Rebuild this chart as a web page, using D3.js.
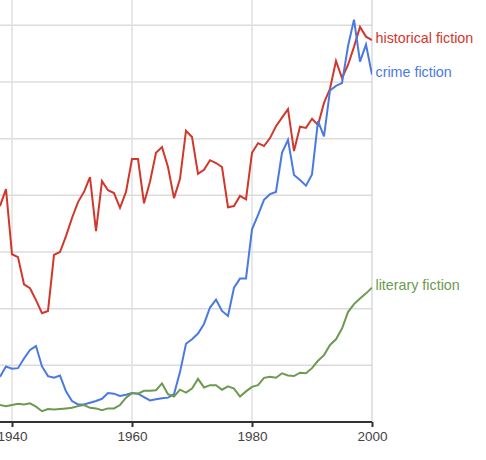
<!DOCTYPE html>
<html>
<head>
<meta charset="utf-8">
<script src="https://cdn.jsdelivr.net/npm/d3@7"></script>
<style>
  body { margin: 0; background: #fff; }
  svg { display: block; font-family: Arial, "Liberation Sans", sans-serif; }
</style>
</head>
<body>
<div id="chart"></div>
<script>
// years shown on the x axis
const years = d3.range(1938, 2001);

// series values, one per year (units = gridline steps)
const historical = [3.81, 4.11, 2.96, 2.91, 2.43, 2.36, 2.15, 1.92, 1.96, 2.95,
  3.00, 3.28, 3.60, 3.88, 4.06, 4.32, 3.37, 4.25, 4.09, 4.04,
  3.78, 4.06, 4.64, 4.64, 3.86, 4.24, 4.75, 4.85, 4.50, 3.95,
  4.29, 5.14, 5.03, 4.38, 4.45, 4.62, 4.57, 4.50, 3.79, 3.81,
  3.99, 3.93, 4.75, 4.92, 4.87, 5.01, 5.22, 5.37, 5.52, 4.78,
  5.21, 5.19, 5.35, 5.24, 5.63, 5.88, 6.37, 6.07, 6.30, 6.62,
  6.97, 6.80, 6.74];
const crime = [0.80, 0.98, 0.94, 0.95, 1.12, 1.27, 1.34, 0.98, 0.81, 0.78,
  0.82, 0.54, 0.37, 0.31, 0.31, 0.34, 0.37, 0.41, 0.51, 0.50,
  0.46, 0.48, 0.51, 0.50, 0.44, 0.38, 0.40, 0.42, 0.43, 0.49,
  0.88, 1.38, 1.46, 1.56, 1.73, 2.02, 2.16, 1.96, 1.87, 2.37,
  2.53, 2.53, 3.40, 3.65, 3.92, 4.02, 4.06, 4.75, 4.98, 4.36,
  4.27, 4.17, 4.37, 5.31, 5.04, 5.85, 5.93, 5.98, 6.63, 7.10,
  6.36, 6.66, 6.13];
const literary = [0.30, 0.28, 0.30, 0.32, 0.31, 0.33, 0.27, 0.19, 0.23, 0.22,
  0.23, 0.24, 0.25, 0.28, 0.30, 0.25, 0.24, 0.21, 0.24, 0.24,
  0.30, 0.43, 0.51, 0.50, 0.55, 0.55, 0.56, 0.68, 0.49, 0.45,
  0.57, 0.52, 0.59, 0.76, 0.61, 0.65, 0.65, 0.57, 0.63, 0.59,
  0.45, 0.54, 0.62, 0.65, 0.78, 0.80, 0.78, 0.86, 0.82, 0.81,
  0.87, 0.86, 0.95, 1.08, 1.18, 1.36, 1.46, 1.65, 1.94, 2.08,
  2.18, 2.27, 2.37];

const seriesNames = ["historical fiction", "crime fiction", "literary fiction"];
const seriesColors = ["#d2372c", "#4a7ae0", "#6d9a4f"];
const xTicks = [1940, 1960, 1980, 2000];
const yGrid = [1, 2, 3, 4, 5, 6, 7];

const width = 486, height = 460;
const plotRight = 372, plotBottom = 422;

const series = [historical, crime, literary].map((vals, i) => ({
  name: seriesNames[i],
  color: seriesColors[i],
  values: vals.map((v, j) => ({ year: years[j], value: v }))
}));

const x = d3.scaleLinear().domain([1938, 2000]).range([0, plotRight]);
const y = d3.scaleLinear().domain([0, 7]).range([plotBottom, 25.3]);

const svg = d3.select("#chart").append("svg")
  .attr("width", width)
  .attr("height", height);

svg.append("defs").append("clipPath").attr("id", "plot")
  .append("rect").attr("x", 0).attr("y", 0)
  .attr("width", plotRight).attr("height", plotBottom);

// horizontal grid
svg.append("g").selectAll("line")
  .data(yGrid)
  .join("line")
  .attr("x1", 0).attr("x2", plotRight)
  .attr("y1", d => y(d)).attr("y2", d => y(d))
  .attr("stroke", "#dcdcdc").attr("stroke-width", 1.5);

// vertical grid
svg.append("g").selectAll("line")
  .data(xTicks)
  .join("line")
  .attr("x1", d => x(d)).attr("x2", d => x(d))
  .attr("y1", 0).attr("y2", plotBottom)
  .attr("stroke", d => d === 2000 ? "#c8c8c8" : "#e0e0e0")
  .attr("stroke-width", d => d === 2000 ? 1 : 1.5);

// lines
const line = d3.line().x(d => x(d.year)).y(d => y(d.value));
svg.append("g").attr("clip-path", "url(#plot)")
  .selectAll("path")
  .data(series)
  .join("path")
  .attr("fill", "none")
  .attr("stroke", d => d.color)
  .attr("stroke-width", 2)
  .attr("stroke-linejoin", "miter")
  .attr("d", d => line(d.values));

// x axis
const xAxis = d3.axisBottom(x).tickValues(xTicks).tickFormat(d3.format("d"))
  .tickSize(5).tickPadding(4);
const gx = svg.append("g")
  .attr("transform", `translate(0,${plotBottom})`)
  .call(xAxis);
gx.select(".domain").attr("stroke", "#333").attr("stroke-width", 2)
  .attr("d", `M0,0H${plotRight}`);
gx.selectAll(".tick line").attr("stroke", "#333").attr("stroke-width", 2);
gx.selectAll(".tick text")
  .attr("fill", "#444")
  .style("font-size", "13.5px")
  .style("font-family", "Arial, 'Liberation Sans', sans-serif");

// end labels
svg.append("g").selectAll("text")
  .data(series)
  .join("text")
  .attr("x", plotRight + 3.5)
  .attr("y", d => y(d.values[d.values.length - 1].value) + 2.5)
  .attr("fill", d => d.color)
  .style("font-size", "14.3px")
  .text(d => d.name);
</script>
</body>
</html>
